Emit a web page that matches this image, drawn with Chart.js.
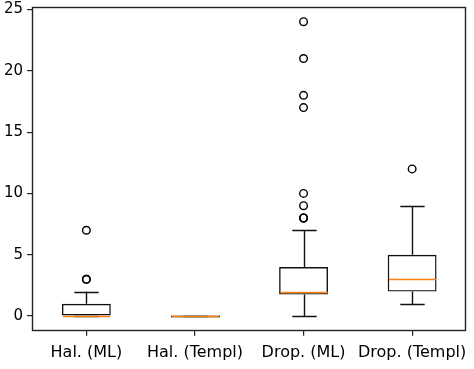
<!DOCTYPE html>
<html>
<head>
<meta charset="utf-8">
<script src="https://cdn.jsdelivr.net/npm/chart.js@4"></script>
<style>
  html, body { margin:0; padding:0; background:#fff; }
  #wrap { width:474px; height:369px; }
</style>
</head>
<body>
<div id="wrap"><canvas id="box-chart" width="474" height="369"></canvas></div>
<script>
// Dane wykresu
const categories = ['Hal. (ML)', 'Hal. (Templ)', 'Drop. (ML)', 'Drop. (Templ)'];
const whiskerLow = [0, 0, 0, 1];
const q1 = [0, 0, 1.75, 2];
const median = [0, 0, 2, 3];
const q3 = [1, 0, 4, 5];
const whiskerHigh = [2, 0, 7, 9];
const outliers = [
  [3, 3, 7],
  [],
  [8, 8, 8, 9, 10, 17, 18, 21, 24],
  [12]
];
const yTicks = [0, 5, 10, 15, 20, 25];

// Wąsy, mediany i ramka rysowane ręcznie
const boxPlugin = {
  id: 'boxExtras',
  afterDatasetsDraw(chart) {
    const ctx = chart.ctx;
    const x = chart.scales.x, y = chart.scales.y;
    const meta = chart.getDatasetMeta(0);
    ctx.save();
    categories.forEach((c, i) => {
      const cx = Math.round(x.getPixelForValue(i)) + 0.5;
      const half = meta.data[i].width / 2;
      const cap = half / 2;
      ctx.strokeStyle = '#111';
      ctx.lineWidth = 1.4;
      ctx.beginPath();
      ctx.moveTo(cx, y.getPixelForValue(q3[i]));
      ctx.lineTo(cx, y.getPixelForValue(whiskerHigh[i]));
      ctx.moveTo(cx - cap, Math.round(y.getPixelForValue(whiskerHigh[i])) + 0.5);
      ctx.lineTo(cx + cap, Math.round(y.getPixelForValue(whiskerHigh[i])) + 0.5);
      ctx.moveTo(cx, y.getPixelForValue(q1[i]));
      ctx.lineTo(cx, y.getPixelForValue(whiskerLow[i]));
      ctx.moveTo(cx - cap, Math.round(y.getPixelForValue(whiskerLow[i])) + 0.5);
      ctx.lineTo(cx + cap, Math.round(y.getPixelForValue(whiskerLow[i])) + 0.5);
      ctx.stroke();
      if (q1[i] === q3[i]) {
        ctx.beginPath();
        ctx.moveTo(cx - half, Math.round(y.getPixelForValue(q1[i])) + 0.5);
        ctx.lineTo(cx + half, Math.round(y.getPixelForValue(q1[i])) + 0.5);
        ctx.stroke();
      }
      ctx.strokeStyle = '#ff7f0e';
      ctx.lineWidth = 1.5;
      ctx.beginPath();
      const my = Math.round(y.getPixelForValue(median[i])) + 0.5;
      ctx.moveTo(cx - half + 1, my);
      ctx.lineTo(cx + half - 1, my);
      ctx.stroke();
    });
    const a = chart.chartArea;
    ctx.strokeStyle = '#222';
    ctx.lineWidth = 1.4;
    ctx.strokeRect(Math.round(a.left) + 0.5, Math.round(a.top) + 0.5,
      Math.round(a.right - a.left) - 1, Math.round(a.bottom - a.top) - 1);
    ctx.restore();
  }
};

const outlierData = [];
outliers.forEach((list, i) => list.forEach(v => outlierData.push({ x: categories[i], y: v })));

const ctx = document.getElementById('box-chart').getContext('2d');
new Chart(ctx, {
  type: 'bar',
  data: {
    labels: categories,
    datasets: [
      {
        data: categories.map((c, i) => [q1[i], q3[i]]),
        backgroundColor: 'rgba(0,0,0,0)',
        borderColor: '#111',
        borderWidth: 1.4,
        borderSkipped: false,
        barPercentage: 0.45,
        categoryPercentage: 1
      },
      {
        type: 'scatter',
        data: outlierData,
        pointRadius: 3.8,
        pointBorderWidth: 1.4,
        pointBorderColor: '#000',
        pointBackgroundColor: 'rgba(0,0,0,0)',
        showLine: false
      }
    ]
  },
  options: {
    responsive: false,
    animation: false,
    layout: { padding: { top: 7, right: 6, bottom: 0, left: 0 } },
    plugins: { legend: { display: false }, tooltip: { enabled: false } },
    scales: {
      x: {
        type: 'category',
        offset: true,
        grid: { display: true, drawOnChartArea: false, offset: false, color: '#222', lineWidth: 1.2, tickLength: 5 },
        border: { display: false },
        ticks: { color: '#000', font: { family: 'DejaVu Sans', size: 16 }, maxRotation: 0, autoSkip: false, padding: 7 }
      },
      y: {
        min: -1.2,
        max: 25.2,
        afterBuildTicks: axis => { axis.ticks = yTicks.map(v => ({ value: v })); },
        afterFit: axis => { axis.paddingTop = 0; },
        grid: { display: true, drawOnChartArea: false, color: '#222', lineWidth: 1.2, tickLength: 5 },
        border: { display: false },
        ticks: { color: '#000', font: { family: 'DejaVu Sans', size: 15 }, padding: 4 }
      }
    }
  },
  plugins: [boxPlugin]
});
</script>
</body>
</html>
